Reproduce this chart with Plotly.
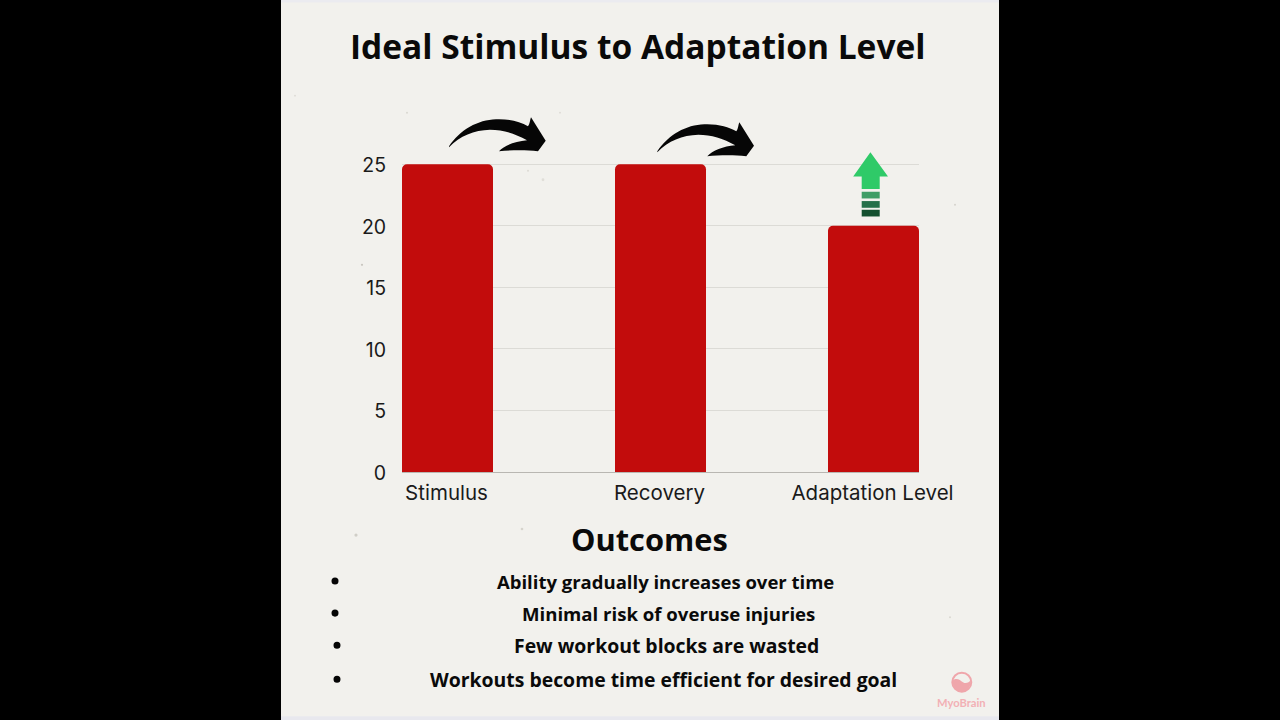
import plotly.graph_objects as go

categories = ["Stimulus", "Recovery", "Adaptation Level"]
values = [25, 25, 20]
y_ticks = [0, 5, 10, 15, 20, 25]
y_top = 25.1

title_text = "Ideal Stimulus to Adaptation Level"
outcomes_heading = "Outcomes"
outcomes = [
    "Ability gradually increases over time",
    "Minimal risk of overuse injuries",
    "Few workout blocks are wasted",
    "Workouts become time efficient for desired goal",
]
outcome_centres = [665.5, 668, 666, 663.5]
outcome_rows = [581, 613, 645, 679]
outcome_sizes = [18.5, 18.6, 19.4, 19.4]
bullet_columns = [335, 335, 337, 337]

W, H = 1280, 720
PX_PER_UNIT = 12.3
LEFT, RIGHT, BOTTOM = 402, 919, 472
TOP = BOTTOM - y_top * PX_PER_UNIT


def px(x):
    return (x - LEFT) / (RIGHT - LEFT)


def py(y):
    return (BOTTOM - y) / (BOTTOM - TOP)


def path(cmds):
    # Builds an SVG path in paper units from page-pixel command tuples.
    parts = []
    for c in cmds:
        letter, pts = c[0], c[1:]
        parts.append(letter + " " + " ".join(f"{px(a):.5f},{py(b):.5f}" for a, b in pts))
    return " ".join(parts) + " Z"


def rect(x0, y0, x1, y1, color, layer="below"):
    return dict(type="rect", xref="paper", yref="paper", x0=px(x0), x1=px(x1),
                y0=py(y0), y1=py(y1), fillcolor=color, line_width=0, layer=layer)


def curved_arrow(dx, dy):
    # Hand-drawn style swoosh arrow, anchored at the first swoosh's page position.
    p = lambda x, y: (x + dx, y + dy)
    return path([
        ("M", p(449, 146.5)),
        ("C", p(460, 130), p(478, 120), p(496, 119.5)),
        ("C", p(510, 119), p(520, 122), p(528, 126.5)),
        ("C", p(530, 124), p(530, 120), p(531, 117.5)),
        ("L", p(545.7, 141)),
        ("L", p(538, 151.5)),
        ("C", p(525, 150), p(510, 150.5), p(499, 151.5)),
        ("C", p(504, 146), p(515, 141.5), p(527, 140.5)),
        ("C", p(515, 134), p(503, 130), p(490, 130)),
        ("C", p(474, 130.5), p(460, 136), p(449, 147.5)),
    ])


shapes = [
    rect(281, 0, 999, 720, "#f2f1ed"),
    rect(281, 0, 999, 3, "#ebebf0"),
    rect(281, 716, 999, 720, "#e8e8ee"),
]

# Flecks in the paper stock
for fx, fy, r, col in [(356, 535, 1.6, "#d0cec7"), (522, 529, 1.3, "#d6d4cd"),
                       (362, 265, 1.1, "#c8c6bf"), (528, 171, 1.0, "#dddbd5"),
                       (543, 180, 1.4, "#e0ded8"), (560, 113, 0.9, "#dcdad4"),
                       (950, 617, 1.0, "#dad8d2"), (955, 205, 1.0, "#d5d3cd"),
                       (295, 96, 0.9, "#dcdad4"), (407, 113, 1.0, "#dad8d2")]:
    shapes.append(dict(type="circle", xref="paper", yref="paper", x0=px(fx - r), x1=px(fx + r),
                       y0=py(fy + r), y1=py(fy - r), fillcolor=col, line_width=0, layer="below"))

# Black swooshes above the first two bars
for dx, dy in [(0, 0), (208.3, 5)]:
    shapes.append(dict(type="path", xref="paper", yref="paper", path=curved_arrow(dx, dy),
                       fillcolor="#060606", line_width=0, layer="above"))

# Green upward arrow with fading segments
shapes.append(dict(type="path", xref="paper", yref="paper", layer="above", line_width=0,
                   fillcolor="#2fca68",
                   path=path([("M", (870.4, 152.5)), ("L", (888, 176.7)), ("L", (879.7, 176.7)),
                              ("L", (879.7, 189.3)), ("L", (861.7, 189.3)), ("L", (861.7, 176.7)),
                              ("L", (853.2, 176.7))])))
shapes += [
    rect(861.7, 192, 879.7, 198.7, "#3f9d66", "above"),
    rect(861.7, 201.3, 879.7, 208, "#26704a", "above"),
    rect(861.7, 210, 879.7, 216.7, "#14502f", "above"),
]

# List bullets
for bx, by in zip(bullet_columns, outcome_rows):
    shapes.append(dict(type="circle", xref="paper", yref="paper", x0=px(bx - 3.5), x1=px(bx + 3.5),
                       y0=py(by + 3.5), y1=py(by - 3.5), fillcolor="#050505", line_width=0))

# Logo: pink ring with a filled wave in the lower half
shapes.append(dict(type="circle", xref="paper", yref="paper", x0=px(952.3), x1=px(971.3),
                   y0=py(691.5), y1=py(672.5), fillcolor="rgba(0,0,0,0)",
                   line=dict(color="#efa6ab", width=2)))
shapes.append(dict(type="path", xref="paper", yref="paper", line_width=0, fillcolor="#efa6ab",
                   path=path([("M", (952.8, 680)),
                              ("C", (957, 677), (960, 680), (963, 682)),
                              ("C", (966, 684), (969, 682), (970.8, 680)),
                              ("C", (971.5, 687), (966, 691.5), (961.8, 691.5)),
                              ("C", (956, 691.5), (952, 686), (952.8, 680))])))


def label(text, x, y, size, color="#0a0a0a", family="Open Sans", bold=True):
    return dict(text=f"<b>{text}</b>" if bold else text, xref="paper", yref="paper",
                x=px(x), y=py(y), showarrow=False, xanchor="center", yanchor="middle",
                font=dict(family=family, size=size, color=color))


annotations = [
    label(title_text, 638, 46.5, 33.5),
    label(outcomes_heading, 649.5, 538.5, 30.8),
    label("MyoBrain", 961.7, 702, 11.2, "#f2b0b5", "Lato"),
]
for text, cx, cy, size in zip(outcomes, outcome_centres, outcome_rows, outcome_sizes):
    annotations.append(label(text, cx, cy, size))

fig = go.Figure(go.Bar(x=categories, y=values, marker=dict(color="#c20c0c", cornerradius=5, line_width=0),
                       hoverinfo="skip"))

fig.update_layout(
    width=W, height=H, autosize=False,
    margin=dict(l=LEFT, r=W - RIGHT, t=TOP, b=H - BOTTOM, pad=0),
    paper_bgcolor="#000000", plot_bgcolor="rgba(0,0,0,0)",
    bargap=1 - 91 / 213, showlegend=False,
    shapes=shapes, annotations=annotations,
    xaxis=dict(type="category", categoryorder="array", categoryarray=categories,
               range=[-0.2136, 2.2136], showgrid=False, showline=True, linecolor="#b9b7b2", linewidth=1,
               zeroline=False, ticks="outside", ticklen=2, tickcolor="rgba(0,0,0,0)",
               ticklabelshift=-1,
               tickfont=dict(family="Inter", size=20.5, color="#1a1a1a")),
    yaxis=dict(range=[0, y_top], tickvals=y_ticks, showgrid=True, gridcolor="#dcdbd6", gridwidth=1,
               zeroline=False, showline=False, ticks="outside", ticklen=11, tickcolor="rgba(0,0,0,0)",
               ticklabelshift=1,
               tickfont=dict(family="Inter", size=19.5, color="#1a1a1a")),
)

fig.write_html("out.html")
